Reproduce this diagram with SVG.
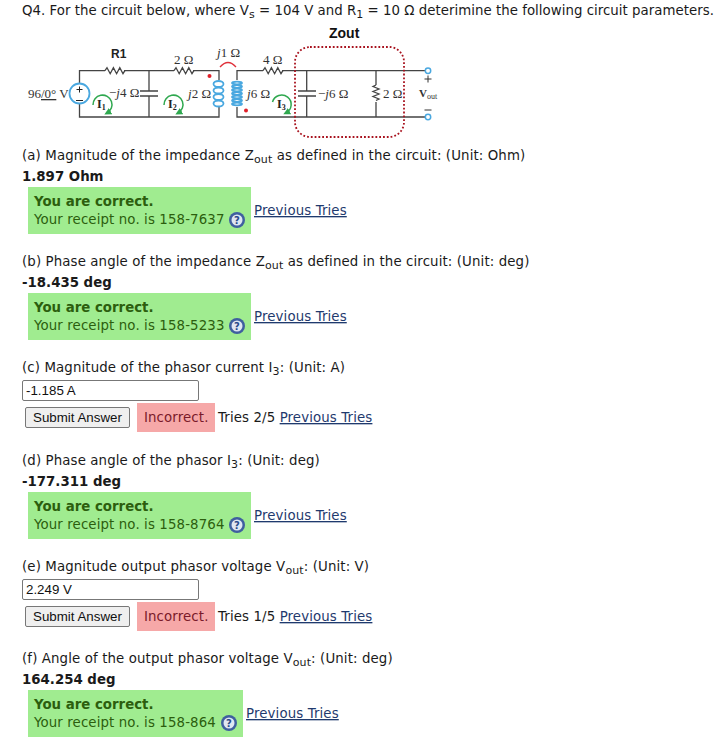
<svg xmlns="http://www.w3.org/2000/svg" width="715" height="752" viewBox="0 0 715 752">
<style>
text{font-family:"DejaVu Sans",Verdana,sans-serif;font-size:13.330px;letter-spacing:.12px;fill:#1a1a1a}
.b{font-weight:bold;letter-spacing:0}
.g{fill:#2c5e0e}
.gb{fill:#2c5e0e;font-weight:bold;letter-spacing:0}
.l{fill:#1f3a6e;text-decoration:underline}
.ok{fill:#a0ec90}
.no{fill:#f6a8a8}
.r{fill:#7a1a2a}
.ar{font-family:"Liberation Sans",Arial,sans-serif;font-size:13.330px;letter-spacing:0;fill:#111}
.inp{fill:#fff;stroke:#777;stroke-width:1}
.btn{fill:#efefef;stroke:#777;stroke-width:1}
.s{font-family:"Liberation Serif",serif;font-size:13px;letter-spacing:0;fill:#333}
.mi{font-family:"Liberation Serif",serif;font-size:12px;font-weight:bold;letter-spacing:0;fill:#222}
.w{fill:none;stroke:#444;stroke-width:1.300}
.c{fill:none;stroke:#4aa8e0;stroke-width:1.800}
.m{fill:none;stroke:#2fa84f;stroke-width:1.500}
.d{fill:#e0202a}
.sub{font-size:11px}
</style>
<defs>
<g id="res"><path class="w" d="M0 0l2-3 3.200 6 3.200-6 3.200 6 3.200-6 3.200 6 1.900-3"/></g>
<marker id="ah" markerUnits="userSpaceOnUse" markerWidth="7" markerHeight="7" refX="4" refY="3.500" orient="auto"><path d="M0 0L7 3.500L0 7z" fill="#2fa84f"/></marker>
<g id="help"><circle r="8" fill="#3f5f9f"/><circle r="5.500" fill="#dfe6f2"/><text x="0" y="4" text-anchor="middle" style="font-size:10px;font-weight:bold;fill:#2a4a8a">?</text></g>
</defs>
<text x="22" y="15" textLength="692" lengthAdjust="spacing">Q4. For the circuit below, where V<tspan class="sub" dy="3">s</tspan><tspan dy="-3"> = 104 V and R</tspan><tspan class="sub" dy="3">1</tspan><tspan dy="-3"> = 10 Ω deterimine the following circuit parameters.</tspan></text>
<g id="connectors">
<path class="w" d="M79.500 83V70.700H105M124 70.700H174M193 70.700H219V80M219 107V117H79.500V104"/>
<path class="w" d="M149 70.700V91M149 96V117M237 80V70.700H263M282 70.700H425M237 107V117H425M306.700 70.700V91M306.700 96V117M376 70.700V85M376 102V117"/>
</g>
<g id="r1"><use href="#res" x="105" y="70.700"/><text x="111" y="58" style="font-family:'Liberation Sans',sans-serif;font-size:12px;letter-spacing:0;font-weight:bold;fill:#222">R1</text></g>
<g id="r2"><use href="#res" x="174" y="70.700"/><text class="s" x="174" y="64">2 Ω</text></g>
<g id="r4"><use href="#res" x="263" y="70.700"/><text class="s" x="263" y="64">4 Ω</text></g>
<g id="source"><circle cx="79.500" cy="93.500" r="10" fill="#fff" stroke="#4aa8e0" stroke-width="1.800"/><path d="M76.500 89.500H82.500M79.500 86.500V92.500M76 100.500H83" stroke="#222" stroke-width="1"/><text class="s" x="28" y="98">96<tspan text-decoration="underline">/0°</tspan> V</text></g>
<g id="c1"><path class="w" d="M140 91H158M140 96H158"/><text class="s" x="109" y="97">−<tspan font-style="italic">j</tspan>4 Ω</text></g>
<g id="coupled">
<g class="c"><ellipse class="c" cx="218.500" cy="84" rx="5" ry="3"/><ellipse class="c" cx="218.500" cy="90.500" rx="5" ry="3"/><ellipse class="c" cx="218.500" cy="97" rx="5" ry="3"/><ellipse class="c" cx="218.500" cy="103.500" rx="5" ry="3"/></g>
<g><ellipse class="c" cx="237" cy="83" rx="5" ry="1.300"/><ellipse class="c" cx="237" cy="86.500" rx="5" ry="1.300"/><ellipse class="c" cx="237" cy="90" rx="5" ry="1.300"/><ellipse class="c" cx="237" cy="93.500" rx="5" ry="1.300"/><ellipse class="c" cx="237" cy="97" rx="5" ry="1.300"/><ellipse class="c" cx="237" cy="100.500" rx="5" ry="1.300"/><ellipse class="c" cx="237" cy="104" rx="5" ry="1.300"/></g>
<path d="M220 67Q228 58 236 67" fill="none" stroke="#e0303a" stroke-width="1.300"/>
<circle class="d" cx="209.500" cy="76" r="2"/><circle class="d" cx="246" cy="110.500" r="2"/>
<text class="s" x="217" y="57"><tspan font-style="italic">j</tspan>1 Ω</text><text class="s" x="188" y="98"><tspan font-style="italic">j</tspan>2 Ω</text><text class="s" x="247" y="98"><tspan font-style="italic">j</tspan>6 Ω</text>
</g>
<g id="c2"><path class="w" d="M298 91H316M298 96H316"/><text class="s" x="318" y="98">−<tspan font-style="italic">j</tspan>6 Ω</text></g>
<g id="r5"><path class="w" d="M376 85l-3 1.500 6 2.500-6 2.500 6 2.500-6 2.500 6 2.500-3 1.500"/><text class="s" x="383" y="98">2 Ω</text></g>
<g id="mesh">
<path class="m" d="M93 105A9.500 9.500 0 1 1 107 113" marker-end="url(#ah)"/><text class="mi" x="97" y="108">I<tspan font-size="8" dy="2">1</tspan></text>
<path class="m" d="M164 105A9.500 9.500 0 1 1 178 113" marker-end="url(#ah)"/><text class="mi" x="168" y="108">I<tspan font-size="8" dy="2">2</tspan></text>
<path class="m" d="M272.500 102A9.500 9.500 0 1 1 286 113" marker-end="url(#ah)"/><text class="mi" x="277" y="108">I<tspan font-size="8" dy="2">3</tspan></text>
</g>
<g id="vout"><circle cx="428" cy="70.700" r="2.700" fill="#fff" stroke="#4aa8e0" stroke-width="1.500"/><circle cx="428" cy="117" r="2.700" fill="#fff" stroke="#4aa8e0" stroke-width="1.500"/><path d="M424.500 79H431.500M428 75.500V82.500M424.500 110H431.500" stroke="#333" stroke-width="1"/><text class="s" x="419" y="97" style="font-weight:bold;font-size:11px">V<tspan font-size="8" font-weight="normal" dy="2">out</tspan></text></g>
<g id="zout"><rect x="295" y="47" width="109" height="90" rx="15" fill="none" stroke="#a8121e" stroke-width="1.800" stroke-dasharray="1.800 2"/><text x="329" y="38" style="font-family:'Liberation Sans',sans-serif;font-size:14px;letter-spacing:0;font-weight:bold;fill:#111">Zout</text></g>

<text x="22" y="160">(a) Magnitude of the impedance Z<tspan class="sub" dy="3">out</tspan><tspan dy="-3"> as defined in the circuit: (Unit: Ohm)</tspan></text>
<text class="b" x="22" y="181">1.897 Ohm</text>
<rect class="ok" x="28" y="187" width="223" height="47"/>
<text class="gb" x="34" y="206">You are correct.</text><text class="g" x="34" y="224">Your receipt no. is 158-7637</text><use href="#help" x="237" y="220"/>
<text class="l" x="254" y="215">Previous Tries</text>

<text x="22" y="266">(b) Phase angle of the impedance Z<tspan class="sub" dy="3">out</tspan><tspan dy="-3"> as defined in the circuit: (Unit: deg)</tspan></text>
<text class="b" x="22" y="287">-18.435 deg</text>
<rect class="ok" x="28" y="293" width="223" height="47"/>
<text class="gb" x="34" y="312">You are correct.</text><text class="g" x="34" y="330">Your receipt no. is 158-5233</text><use href="#help" x="237" y="326"/>
<text class="l" x="254" y="321">Previous Tries</text>

<text x="22" y="372">(c) Magnitude of the phasor current I<tspan class="sub" dy="3">3</tspan><tspan dy="-3">: (Unit: A)</tspan></text>
<rect class="inp" x="22.500" y="380.500" width="176" height="20" rx="1.500"/><text class="ar" x="26" y="395">-1.185 A</text>
<rect class="btn" x="25.500" y="407.500" width="104" height="20" rx="1.500"/><text class="ar" x="33" y="422">Submit Answer</text>
<rect class="no" x="137" y="403" width="78" height="29"/><text class="r" x="144" y="422">Incorrect.</text>
<text x="218" y="422">Tries 2/5 <tspan class="l">Previous Tries</tspan></text>

<text x="22" y="465">(d) Phase angle of the phasor I<tspan class="sub" dy="3">3</tspan><tspan dy="-3">: (Unit: deg)</tspan></text>
<text class="b" x="22" y="486">-177.311 deg</text>
<rect class="ok" x="28" y="492" width="223" height="47"/>
<text class="gb" x="34" y="511">You are correct.</text><text class="g" x="34" y="529">Your receipt no. is 158-8764</text><use href="#help" x="237" y="525"/>
<text class="l" x="254" y="520">Previous Tries</text>

<text x="22" y="571">(e) Magnitude output phasor voltage V<tspan class="sub" dy="3">out</tspan><tspan dy="-3">: (Unit: V)</tspan></text>
<rect class="inp" x="22.500" y="579.500" width="176" height="20" rx="1.500"/><text class="ar" x="26" y="594">2.249 V</text>
<rect class="btn" x="25.500" y="606.500" width="104" height="20" rx="1.500"/><text class="ar" x="33" y="621">Submit Answer</text>
<rect class="no" x="137" y="602" width="78" height="29"/><text class="r" x="144" y="621">Incorrect.</text>
<text x="218" y="621">Tries 1/5 <tspan class="l">Previous Tries</tspan></text>

<text x="22" y="663">(f) Angle of the output phasor voltage V<tspan class="sub" dy="3">out</tspan><tspan dy="-3">: (Unit: deg)</tspan></text>
<text class="b" x="22" y="684">164.254 deg</text>
<rect class="ok" x="28" y="690" width="215" height="47"/>
<text class="gb" x="34" y="709">You are correct.</text><text class="g" x="34" y="727">Your receipt no. is 158-864</text><use href="#help" x="229" y="723"/>
<text class="l" x="246" y="718">Previous Tries</text>
</svg>
